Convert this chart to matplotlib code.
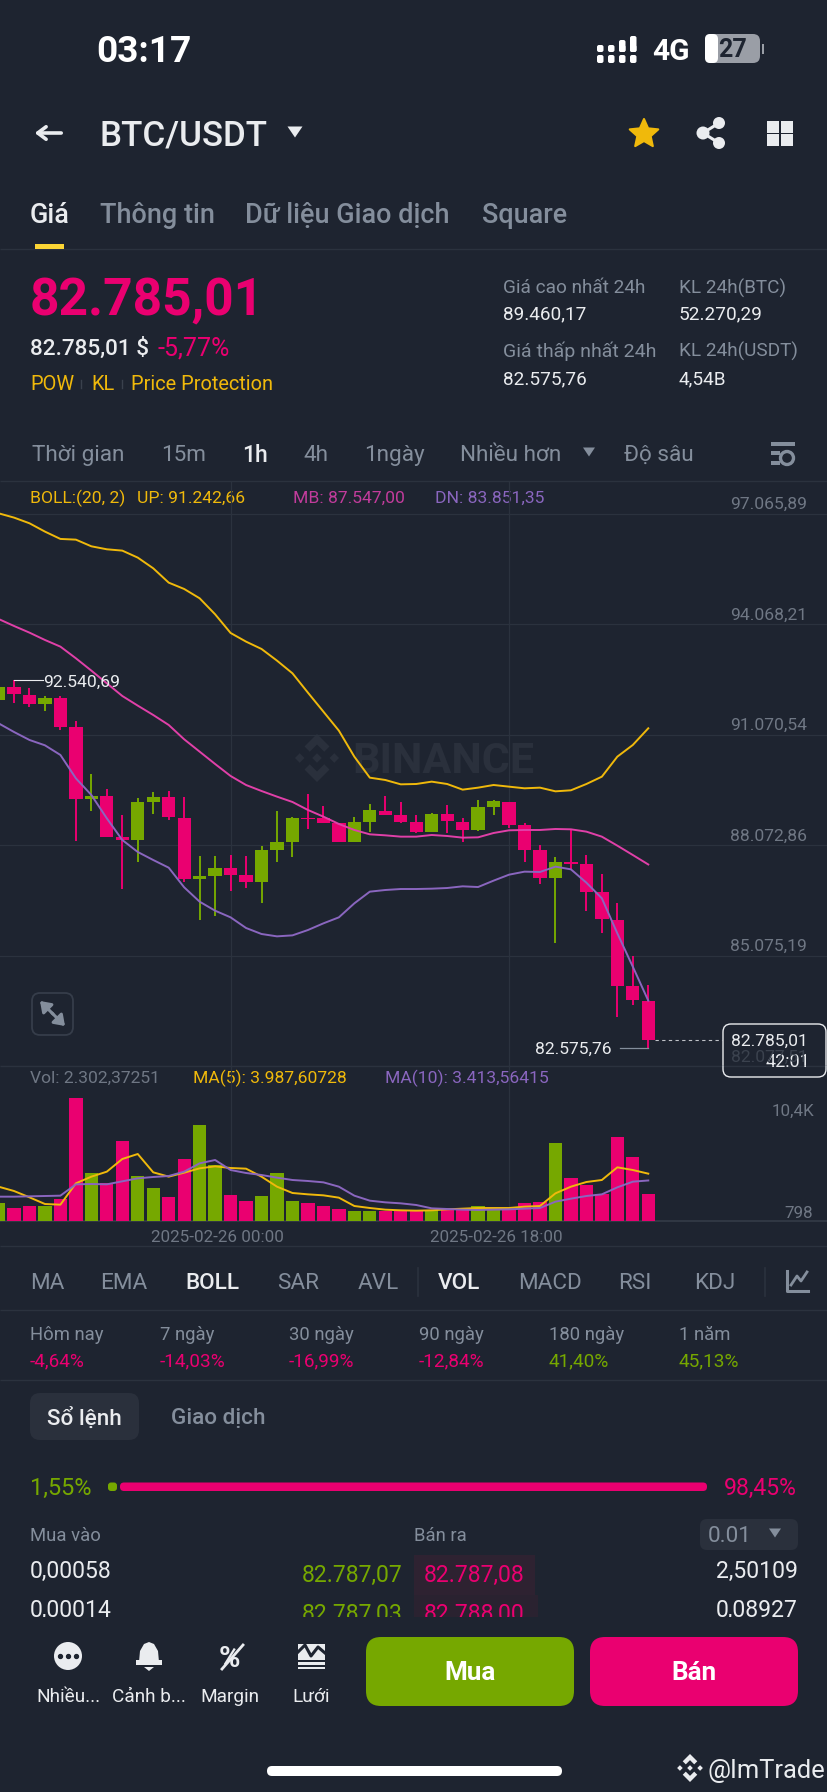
import numpy as np
import matplotlib
matplotlib.use('Agg')
import matplotlib.pyplot as plt
from matplotlib.patches import FancyBboxPatch, Polygon, Rectangle, Circle

plt.rcParams['font.family'] = ['Roboto', 'DejaVu Sans']

BG = '#1e2430'
LINE = '#2b323e'
GREY = '#848e9c'
WHITE = '#eaecef'
GREEN = '#76a800'
PINK = '#ea0070'
YELLOW = '#f0b90b'
MB_PINK = '#e040a8'
PURPLE = '#8a66bf'

# gia nen, cay dau tien bi cat o mep trai
opens = [92011, 92373, 92147, 91912, 92066, 91270, 89324, 89397, 88293, 88211, 89243, 89388, 88818, 87153,
         87234, 87451, 87252, 87072, 87940, 88157, 88818, 88809, 88673, 88148, 88700, 89008, 88890, 88691,
         88420, 88917, 88709, 88483, 89116, 89252, 88610, 87931, 87189, 87614, 87560, 86800, 86040, 84249, 83850]
highs = [92419, 92540.69, 92328, 92120, 92120, 91433, 89994, 89587, 88899, 89351, 89523, 89541, 89379, 87777,
         87768, 87804, 87786, 88058, 89008, 88827, 89460.17, 89134, 88673, 88845, 89198, 89415, 89234, 88890,
         88944, 89161, 88809, 89288, 89306, 89252, 88673, 88085, 87741, 88510, 87804, 87298, 86492, 85072, 84276]
lows = [92011, 91939, 91812, 91704, 91206, 88193, 89008, 88302, 86890, 87623, 88908, 88745, 87081, 86049,
        86157, 86836, 86918, 86510, 87623, 87759, 88510, 88673, 88148, 88148, 88420, 88899, 88673, 88392,
        88420, 88392, 88148, 88465, 88881, 88546, 87623, 87026, 85425, 87415, 86284, 85696, 83416, 83742, 82575.76]
closes = [92373, 92165, 91912, 92057, 91279, 89324, 89397, 88302, 88220, 89234, 89388, 88827, 87153, 87225,
          87451, 87261, 87072, 87940, 88157, 88818, 88772, 88682, 88148, 88700, 89017, 88899, 88691, 88420,
          88917, 88718, 88483, 89107, 89261, 88619, 87940, 87189, 87614, 87569, 86809, 86058, 84258, 83859, 82785.01]

boll_up = [97078, 96961, 96807, 96581, 96382, 96363, 96182, 96101, 96065, 95875, 95585, 95196, 95024, 94771,
           94337, 93830, 93595, 93396, 93079, 92735, 92210, 91695, 91179, 90473, 89903, 89840, 89722, 89731,
           89795, 89731, 89578, 89632, 89704, 89659, 89614, 89632, 89532, 89560, 89731, 89930, 90473, 90790, 91242.66]
boll_mb = [94210, 94020, 93839, 93640, 93459, 93143, 92808, 92464, 92120, 91858, 91604, 91333, 90944, 90609,
           90274, 89949, 89704, 89541, 89388, 89243, 89026, 88845, 88646, 88483, 88365, 88338, 88302, 88302,
           88347, 88320, 88275, 88284, 88401, 88474, 88483, 88483, 88510, 88501, 88438, 88302, 88058, 87804, 87547]
boll_dn = [91378, 91143, 90926, 90781, 90519, 89885, 89433, 88799, 88211, 87886, 87668, 87460, 86927, 86537,
           86293, 86112, 85823, 85660, 85596, 85623, 85768, 85949, 86112, 86492, 86809, 86854, 86881, 86881,
           86890, 86908, 86954, 86935, 87108, 87270, 87352, 87343, 87488, 87415, 87053, 86628, 85678, 84773, 83851.35]

volumes = [1488, 1123, 1292, 1236, 1825, 10400, 4015, 3173, 6739, 3819, 2752, 2050, 5223, 8087, 4717, 2162,
           1713, 2106, 4015, 1685, 1488, 1264, 1011, 870, 814, 870, 842, 842, 927, 899, 927, 1236, 955, 983,
           1488, 1629, 6571, 3594, 3005, 2274, 7048, 5363, 2302.37]
vol_ma5 = [2892, 2527, 1994, 1432, 1376, 3173, 3735, 4156, 5223, 5644, 4100, 3735, 4072, 4437, 4605, 4465,
           4409, 3735, 2892, 2359, 2246, 2162, 1966, 1264, 1095, 955, 899, 870, 899, 983, 1039, 1095, 1095,
           1095, 1207, 1264, 2331, 2892, 3285, 3454, 4521, 4296, 3987.6]
vol_ma10 = [2050, 2050, 2078, 2106, 2134, 3089, 3117, 3089, 3342, 3594, 3707, 3791, 4156, 4858, 5139, 4296,
            4044, 3875, 3650, 3454, 3370, 3257, 2892, 2134, 1713, 1572, 1488, 1348, 1067, 1011, 955, 927, 955,
            983, 1039, 1095, 1629, 1881, 2106, 2246, 2836, 3313, 3413.56]

price_ticks = [97065.89, 94068.21, 91070.54, 88072.86, 85075.19, 82077.51]
date_labels = ['2025-02-26 00:00', '2025-02-26 18:00']
date_candles = [14, 32]

period_names = ['Hôm nay', '7 ngày', '30 ngày', '90 ngày', '180 ngày', '1 năm']
period_values = ['-4,64%', '-14,03%', '-16,99%', '-12,84%', '41,40%', '45,13%']


def vn(v):
    return f'{v:,.2f}'.replace(',', ' ').replace('.', ',').replace(' ', '.')


W, H = 828, 1792
fig = plt.figure(figsize=(W / 100, H / 100), dpi=100, facecolor=BG)


def panel(top, bottom, z):
    ax = fig.add_axes([0, 1 - bottom / H, 1, (bottom - top) / H], zorder=z)
    ax.patch.set_alpha(0)
    for s in ax.spines.values():
        s.set_visible(False)
    return ax


ui = panel(0, H, 1)
ui.set_xlim(0, W)
ui.set_ylim(H, 0)
ui.axis('off')


def t(x, y, s, size=20, color=GREY, weight='normal', ha='left', z=5, **kw):
    # va=center cua matplotlib hoi cao, bu lai theo co chu
    return ui.text(x, y + size * 0.07, s, fontsize=size * 0.72, color=color, fontweight=weight,
                   ha=ha, va='center', zorder=z, **kw)


def box(x0, y0, x1, y1, r, fc, ec='none', lw=0, z=2):
    ui.add_patch(FancyBboxPatch((x0, y0), x1 - x0, y1 - y0, boxstyle=f'round,pad=0,rounding_size={r}',
                                fc=fc, ec=ec, lw=lw, zorder=z))


def tri(cx, cy, w, h, color=GREY):
    ui.add_patch(Polygon([(cx - w / 2, cy - h / 2), (cx + w / 2, cy - h / 2), (cx, cy + h / 2)],
                         fc=color, ec='none', zorder=5))


def hline(y, x0=0, x1=W, color=LINE, lw=1.0):
    ui.plot([x0, x1], [y, y], color=color, lw=lw, zorder=1, solid_capstyle='butt')


def logo(cx, cy, s, color, z=1):
    # hinh thoi Binance
    for dx, k in [(0, 0.2), (-0.72, 0.2), (0.72, 0.2)]:
        ui.add_patch(Polygon([(cx + dx * s - k * s, cy), (cx + dx * s, cy - k * s),
                              (cx + dx * s + k * s, cy), (cx + dx * s, cy + k * s)], fc=color, ec='none', zorder=z))
    for sign in (-1, 1):
        ui.add_patch(Polygon([(cx, cy + sign * s), (cx + 0.52 * s, cy + sign * 0.48 * s), (cx + 0.3 * s, cy + sign * 0.26 * s),
                              (cx, cy + sign * 0.56 * s), (cx - 0.3 * s, cy + sign * 0.26 * s),
                              (cx - 0.52 * s, cy + sign * 0.48 * s)], fc=color, ec='none', zorder=z))


# --- thanh trang thai
t(96, 49, '03:17', 37, 'white', 'bold')
for i, x in enumerate([597, 608, 619, 630]):
    box(x, 55, x + 6.5, 63, 2, 'white', z=5)
    box(x, 45, x + 6.5, 52, 2, 'white', z=5)
    if i >= 2:
        box(x, 36 if i == 3 else 40, x + 6.5, 52, 2, 'white', z=5)
t(652, 50, '4G', 30, 'white', 'bold')
box(705, 34, 760, 63, 7, '#9a9ea6')
box(705, 34, 718, 63, 5, 'white', z=3)
t(733, 48, '27', 25, '#1e2430', 'bold', ha='center')
ui.add_patch(Rectangle((762, 44), 2.5, 10, fc='#9a9ea6', ec='none', zorder=3))

# --- tieu de
ui.annotate('', xy=(32, 133), xytext=(64, 133), zorder=5,
            arrowprops=dict(arrowstyle='->,head_width=0.45,head_length=0.6', color=WHITE, lw=2.6))
t(100, 134, 'BTC/USDT', 35, WHITE, 'medium')
tri(295, 132, 15, 11, WHITE)
star = [(644 + (15 if i % 2 == 0 else 7) * np.sin(i * np.pi / 5), 134 - (15 if i % 2 == 0 else 7) * np.cos(i * np.pi / 5))
        for i in range(10)]
ui.add_patch(Polygon(star, fc=YELLOW, ec=YELLOW, lw=1.5, joinstyle='round', zorder=5))
ui.plot([719, 703, 719], [123, 133, 143], color=WHITE, lw=2.2, zorder=5)
for cx, cy, r in [(719, 123, 6), (703, 133, 6.5), (719, 143, 6)]:
    ui.add_patch(Circle((cx, cy), r, fc=WHITE, ec='none', zorder=5))
for x, y in [(767, 121), (781, 121), (767, 134), (781, 134)]:
    ui.add_patch(Rectangle((x, y), 12, 12, fc=WHITE, ec='none', zorder=5))

# --- tab
t(30, 214, 'Giá', 27, WHITE, 'medium')
t(100, 214, 'Thông tin', 27, GREY, 'medium')
t(245, 214, 'Dữ liệu Giao dịch', 27, GREY, 'medium')
t(482, 214, 'Square', 27, GREY, 'medium')
ui.add_patch(Rectangle((35, 244), 29, 5, fc='#fcd535', ec='none', zorder=5))
hline(249)

# --- gia
t(30, 298, vn(closes[-1]), 51.5, PINK, 'bold')
t(30, 347, vn(closes[-1]) + ' $', 22.5, WHITE, 'medium')
t(158, 347, '-5,77%', 25, PINK)
t(30, 383, 'POW', 20, YELLOW)
t(91, 383, 'KL', 20, YELLOW)
t(131, 383, 'Price Protection', 20, YELLOW)
for x in [81, 122]:
    ui.plot([x, x], [380, 388], color='#3a414d', lw=1, zorder=5)
t(503, 287, 'Giá cao nhất 24h', 19)
t(679, 287, 'KL 24h(BTC)', 19)
t(503, 313, '89.460,17', 19, WHITE)
t(679, 313, '52.270,29', 19, WHITE)
t(503, 350, 'Giá thấp nhất 24h', 19.5)
t(679, 350, 'KL 24h(USDT)', 19)
t(503, 378, '82.575,76', 19, WHITE)
t(679, 378, '4,54B', 19, WHITE)

# --- khung thoi gian
for x, s in [(32, 'Thời gian'), (161, '15m'), (303, '4h'), (364, '1ngày'), (460, 'Nhiều hơn'), (624, 'Độ sâu')]:
    t(x, 454, s, 22.5)
t(242, 454, '1h', 23, WHITE, 'medium')
tri(589, 452, 12, 9)
ui.add_patch(Rectangle((771, 442), 24, 4, fc=GREY, ec='none', zorder=5))
ui.add_patch(Rectangle((771, 451), 9, 4, fc=GREY, ec='none', zorder=5))
ui.add_patch(Rectangle((771, 461), 9, 4, fc=GREY, ec='none', zorder=5))
ui.add_patch(Circle((787, 458), 6.5, fc='none', ec=GREY, lw=2.4, zorder=5))
hline(481)

t(30, 497, 'BOLL:(20, 2)', 17.5, YELLOW)
t(137, 497, 'UP: ' + vn(boll_up[-1]), 17.5, YELLOW)
t(293, 497, 'MB: ' + vn(boll_mb[-1]), 17.5, '#c23c9c')
t(435, 497, 'DN: ' + vn(boll_dn[-1]), 17.5, PURPLE)

# --- watermark
logo(317, 758, 24, '#2a303c')
t(352, 758, 'BINANCE', 43, '#2a303c', 'bold', z=1)

# --- nen
idx = np.arange(-1, 42)
opens_a, highs_a, lows_a, closes_a = map(np.array, (opens, highs, lows, closes))
up = closes_a >= opens_a
colors = np.where(up, GREEN, PINK)

ax = panel(481, 1066, 2)
ax.set_xlim(-14 / 15.47, (W - 14) / 15.47)
ax.set_ylim(82077.51, 82077.51 + (1066 - 481) * 27.14)
ax.vlines(idx, lows_a, highs_a, colors=colors, lw=1.4, zorder=3)
ax.bar(idx, np.abs(closes_a - opens_a), bottom=np.minimum(opens_a, closes_a), width=0.86, color=colors, lw=0, zorder=3)
ax.plot(idx, boll_up, color=YELLOW, lw=1.4, zorder=4)
ax.plot(idx, boll_mb, color=MB_PINK, lw=1.4, zorder=4)
ax.plot(idx, boll_dn, color=PURPLE, lw=1.4, zorder=4)

ax.set_yticks(price_ticks)
ax.set_xticks(date_candles)
ax.grid(True, color=LINE, lw=0.9)
ax.set_axisbelow(True)
ax.tick_params(length=0, labelleft=False, labelbottom=False)
for p in price_ticks:
    ax.annotate(vn(p), xy=(0.975, p), xycoords=('axes fraction', 'data'), xytext=(0, 9), textcoords='offset pixels',
                ha='right', va='center', fontsize=17.5 * 0.72, color='#6f7784' if p > 82100 else '#3b424e', zorder=1)

# dinh / day / gia cuoi
ax.plot([0, 1.85], [highs[1], highs[1]], color=WHITE, lw=0.8, zorder=5)
ax.annotate(vn(highs[1]), xy=(1.9, highs[1]), xytext=(0, -2), textcoords='offset pixels', color=WHITE,
            fontsize=17.5 * 0.72, va='center', ha='left', zorder=6)
ax.plot([39.15, 41], [lows[-1], lows[-1]], color=GREY, lw=0.9, zorder=5)
ax.annotate(vn(lows[-1]), xy=(38.6, lows[-1]), xytext=(0, -2), textcoords='offset pixels', color=WHITE,
            fontsize=17.5 * 0.72, va='center', ha='right', zorder=6)
ax.plot([41.43, 45.77], [closes[-1], closes[-1]], color=WHITE, lw=0.8, ls=(0, (3, 3)), alpha=0.8, zorder=5)

# hop gia hien tai
box(723, 1024, 826, 1077, 8, 'none', ec=WHITE, lw=1.0, z=6)
t(808, 1040, vn(closes[-1]), 17.5, WHITE, ha='right', z=7)
t(810, 1061, '42:01', 18, WHITE, ha='right', z=7)

# nut phong to
box(32, 993, 73, 1035, 8, 'none', ec='#363d4a', lw=1.3)
ui.annotate('', xy=(40, 1001), xytext=(53, 1014), zorder=5,
            arrowprops=dict(arrowstyle='-|>,head_width=0.42,head_length=0.6', color=GREY, lw=2.2, shrinkA=0, shrinkB=0))
ui.annotate('', xy=(65, 1026), xytext=(52, 1013), zorder=5,
            arrowprops=dict(arrowstyle='-|>,head_width=0.42,head_length=0.6', color=GREY, lw=2.2, shrinkA=0, shrinkB=0))

# --- khoi luong
axv = panel(1066, 1221, 2)
axv.set_xlim(ax.get_xlim())
axv.set_ylim(0, 155 * 84.24)
axv.bar(idx, volumes, width=0.86, color=colors, lw=0, zorder=3)
axv.plot(idx, vol_ma5, color=YELLOW, lw=1.4, zorder=4)
axv.plot(idx, vol_ma10, color=PURPLE, lw=1.4, zorder=4)
axv.set_yticks([])
axv.set_xticks(date_candles)
axv.grid(True, axis='x', color=LINE, lw=0.9)
axv.set_axisbelow(True)
axv.tick_params(length=0, labelleft=False, labelbottom=False)
for c, s in zip(date_candles, date_labels):
    axv.annotate(s, xy=(c, 0), xytext=(-13, -16), textcoords='offset pixels', ha='center', va='center',
                 fontsize=17 * 0.72, color='#6f7784', annotation_clip=False)
hline(1066)
hline(1221, color='#343b47', lw=1.2)
hline(1246)
t(30, 1077, 'Vol: 2.302,37251', 17.5, '#6f7784')
t(193, 1077, 'MA(5): 3.987,60728', 17.5, YELLOW)
t(385, 1077, 'MA(10): 3.413,56415', 17.5, PURPLE)
t(814, 1110, '10,4K', 17, '#6f7784', ha='right')
t(813, 1212, '798', 17, '#6f7784', ha='right')

# --- chi bao
for x, s in [(30, 'MA'), (100, 'EMA'), (277, 'SAR'), (358, 'AVL'), (518, 'MACD'), (618, 'RSI'), (694, 'KDJ')]:
    t(x, 1282, s, 22.5)
t(185, 1282, 'BOLL', 22.5, WHITE, 'medium')
t(438, 1282, 'VOL', 22.5, WHITE, 'medium')
for x in [418, 765]:
    ui.plot([x, x], [1268, 1296], color=LINE, lw=1.2, zorder=3)
ui.plot([787, 787, 808], [1271, 1291, 1291], color=GREY, lw=2.2, zorder=5)
ui.plot([791, 797, 801, 807], [1285, 1276, 1281, 1272], color=GREY, lw=2, zorder=5)
hline(1310)

for x, name, val in zip([30, 160, 289, 419, 549, 679], period_names, period_values):
    t(x, 1334, name, 18.5)
    t(x, 1360, val, 19, PINK if val.startswith('-') else GREEN)
hline(1380)

# --- so lenh
box(30, 1393, 139, 1440, 10, '#2a303c')
t(84.5, 1417, 'Sổ lệnh', 22.5, WHITE, 'medium', ha='center')
t(171, 1417, 'Giao dịch', 22.5, GREY, 'medium')

t(30, 1487, '1,55%', 23.5, GREEN)
box(108, 1482.5, 117, 1491, 3, GREEN)
box(120, 1482.5, 707, 1491, 4, PINK)
t(797, 1487, '98,45%', 23, PINK, ha='right')

t(30, 1535, 'Mua vào', 18.5)
t(414, 1535, 'Bán ra', 18.5)
box(700, 1519, 798, 1550, 7, '#2a303c')
t(708, 1535, '0.01', 22.5)
tri(775, 1533, 12, 9)

ui.add_patch(Rectangle((414, 1555), 121, 40, fc='#2e2231', ec='none', zorder=2))
ui.add_patch(Rectangle((414, 1595), 124, 25, fc='#2a2230', ec='none', zorder=2))
t(30, 1570, '0,00058', 23, WHITE)
t(403, 1574, '82.787,07', 23, GREEN, ha='right')
t(424, 1574, '82.787,08', 23, PINK)
t(798, 1570, '2,50109', 23, WHITE, ha='right')
t(30, 1609, '0,00014', 23, WHITE)
t(403, 1613, '82.787,03', 23, GREEN, ha='right')
t(424, 1613, '82.788,00', 23, PINK)
t(798, 1609, '0,08927', 23, WHITE, ha='right')

# --- thanh duoi, che chu bi cat
ui.add_patch(Rectangle((0, 1617), W, H - 1617, fc=BG, ec='none', zorder=8))
Z = 9
ui.add_patch(Circle((68, 1656), 14, fc=WHITE, ec='none', zorder=Z))
ui.scatter([60, 68, 76], [1656, 1656, 1656], s=8, color=BG, zorder=Z + 1)
ui.add_patch(Polygon([(139, 1662), (140, 1651), (144, 1644), (149, 1642), (154, 1644), (158, 1651), (159, 1662)],
                     fc=WHITE, ec='none', zorder=Z))
ui.add_patch(Rectangle((136, 1660), 26, 5, fc=WHITE, ec='none', zorder=Z))
ui.add_patch(Polygon([(144, 1667), (154, 1667), (149, 1671)], fc=WHITE, ec='none', zorder=Z))
t(229, 1657, '%', 29, WHITE, 'bold', ha='center', z=Z)
ui.plot([222, 243], [1669, 1645], color=WHITE, lw=2, zorder=Z)
ui.add_patch(Polygon([(298, 1644), (325, 1644), (325, 1660), (298, 1660)], fc=WHITE, ec='none', zorder=Z))
ui.plot([298, 305, 311, 318, 325], [1652, 1645, 1656, 1647, 1653], color=BG, lw=2.2, zorder=Z + 1)
ui.add_patch(Rectangle((298, 1662), 27, 3, fc=WHITE, ec='none', zorder=Z))
ui.add_patch(Rectangle((298, 1667), 27, 2.5, fc=WHITE, ec='none', zorder=Z))
t(68, 1696, 'Nhiều...', 19, WHITE, ha='center', z=Z)
t(149, 1696, 'Cảnh b...', 19, WHITE, ha='center', z=Z)
t(230, 1696, 'Margin', 19, WHITE, ha='center', z=Z)
t(311, 1696, 'Lưới', 19, WHITE, ha='center', z=Z)
box(366, 1637, 574, 1706, 15, GREEN, z=Z)
box(590, 1637, 798, 1706, 15, PINK, z=Z)
t(470, 1671, 'Mua', 26, 'white', 'bold', ha='center', z=Z + 1)
t(694, 1671, 'Bán', 26, 'white', 'bold', ha='center', z=Z + 1)
box(267, 1766, 562, 1776, 5, 'white', z=Z)
logo(690, 1768, 14, WHITE, z=Z)
t(708, 1769, '@ImTrade', 25.5, WHITE, z=Z)

fig.savefig('out.png', dpi=100, facecolor=BG)
